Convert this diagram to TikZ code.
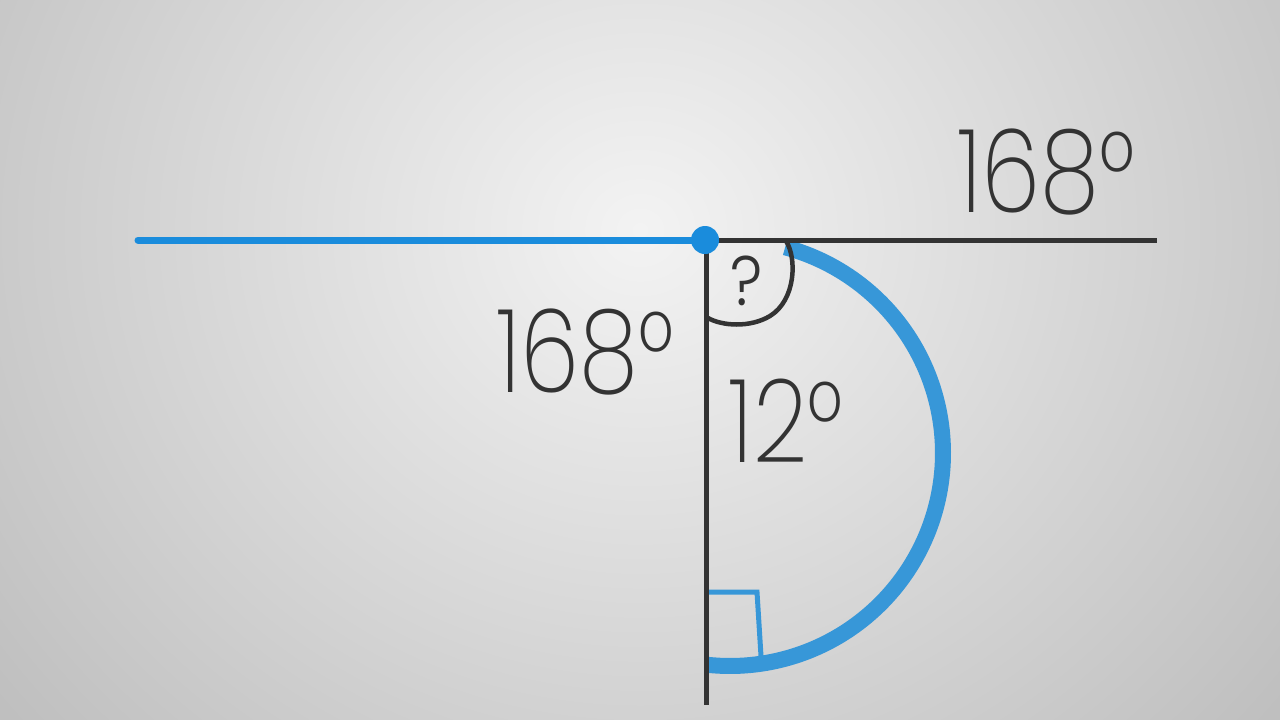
\documentclass[tikz,border=0pt]{standalone}
\usepackage{fontspec}
\newfontfamily\numfont{Poppins ExtraLight}[FakeStretch=0.82]
\newfontfamily\qfont{Poppins Light}[FakeStretch=0.9]
\definecolor{linegray}{HTML}{333333}
\definecolor{bluedot}{HTML}{1A8CDC}
\definecolor{bluearc}{HTML}{3797D8}
\definecolor{bgin}{HTML}{F3F3F3}
\definecolor{bgout}{HTML}{BFBFBF}
\begin{document}
\begin{tikzpicture}[x=1pt,y=-1pt,
  grayline/.style={draw=linegray, line width=5pt},
  blueline/.style={draw=bluedot, line width=7pt, line cap=round},
  arcline/.style={draw=bluearc, line width=16pt},
  marker/.style={draw=bluearc, line width=5pt},
  anglemark/.style={draw=linegray, line width=4.5pt},
  biglabel/.style={inner sep=0pt, text=linegray, font=\numfont\fontsize{116}{116}\selectfont},
  qlabel/.style={inner sep=0pt, text=linegray, font=\qfont\fontsize{70}{70}\selectfont}]
\useasboundingbox (0,0) rectangle (1280,720);
\begin{scope}
  \clip (0,0) rectangle (1280,720);
  \shade[inner color=bgin, outer color=bgout] (-180,-530) rectangle (1460,990);
\end{scope}
\coordinate (O) at (705,240);
\coordinate (L) at (138,240);
\coordinate (R) at (1157,240);
\coordinate (B) at (706,705);
\coordinate (C) at (730,453);
% blue arc
\draw[arcline] plot[domain=-75:96, samples=120] ({730+213*cos(\x)},{453+213*sin(\x)});
% right angle marker
\coordinate (M1) at (708,592);
\coordinate (M2) at (757,592);
\coordinate (M3) at (761,656);
\draw[marker] (M1) -- (M2) -- (M3);
% gray lines
\draw[grayline] (O) -- (R);
\draw[grayline] (706,240) -- (B);
% question-mark angle
\coordinate (Q1) at (786,241);
\coordinate (Q2) at (770,316);
\coordinate (Q3) at (708,318);
\draw[anglemark] (Q1) .. controls (797,258) and (796,300) .. (Q2) .. controls (750,328) and (722,326) .. (Q3);
% blue line and dot
\draw[blueline] (L) -- (O);
\fill[bluedot] (O) circle[radius=14pt];
% labels
\node[biglabel] (t1) at (1046,172) {168°};
\node[biglabel] (t2) at (585,352) {168°};
\node[biglabel] (t3) at (786,421) {12°};
\node[qlabel] (q) at (747,281) {?};
\end{tikzpicture}
\end{document}
